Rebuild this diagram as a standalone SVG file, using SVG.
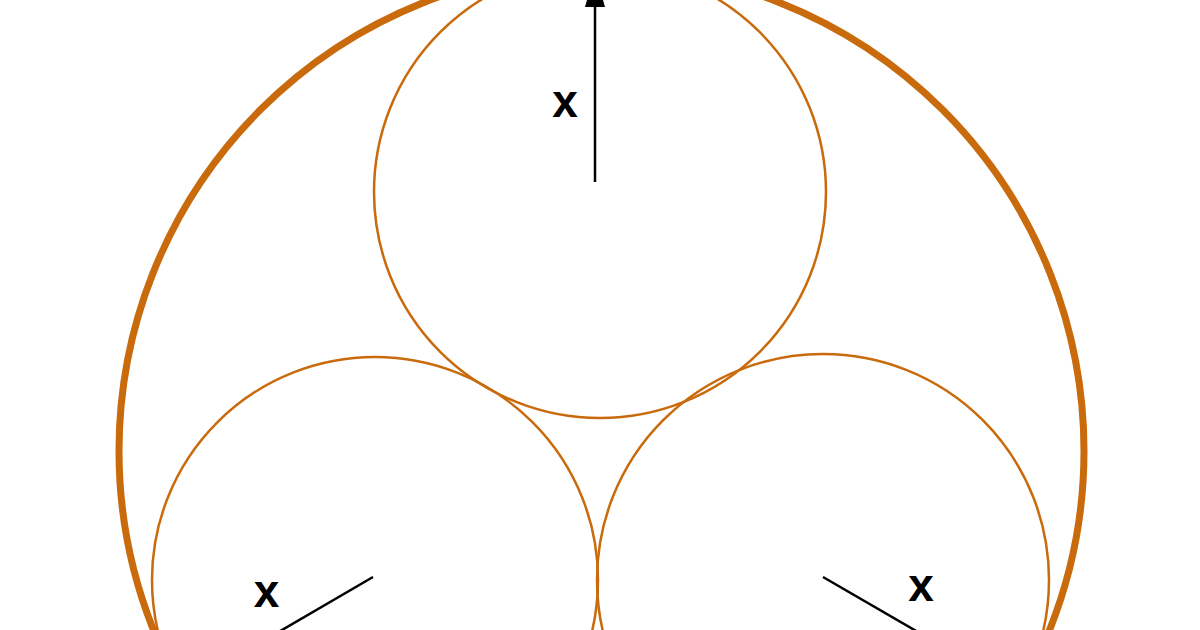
<svg xmlns="http://www.w3.org/2000/svg" width="1200" height="630" viewBox="0 0 1200 630">
<style>
.c{fill:none;stroke:#c96a0c;stroke-width:2.5}
.big{fill:none;stroke:#c96a0c;stroke-width:7}
.ln{stroke:#000;stroke-width:2.5;fill:none}
.lbl{font-family:"Liberation Sans",Arial,sans-serif;font-weight:bold;font-size:46px;fill:#000;text-anchor:middle}
</style>
<rect width="1200" height="630" fill="#fff"/>
<g id="outer"><circle class="big" cx="601.5" cy="451" r="482.5"/></g>
<g id="top"><circle class="c" cx="600" cy="192" r="226"/></g>
<g id="bottom-left"><circle class="c" cx="375" cy="580" r="223"/></g>
<g id="bottom-right"><circle class="c" cx="823" cy="580" r="226"/></g>
<g id="connectors">
<line class="ln" x1="595" y1="182" x2="595" y2="6"/>
<polygon points="585,7 605,7 595,-28" fill="#000"/>
<line class="ln" x1="373" y1="577" x2="270" y2="637"/>
<line class="ln" x1="823" y1="577" x2="930" y2="639"/>
</g>
<g id="labels">
<text class="lbl" x="565" y="117">x</text>
<text class="lbl" x="266.5" y="607">x</text>
<text class="lbl" x="921" y="601">x</text>
</g>
</svg>
